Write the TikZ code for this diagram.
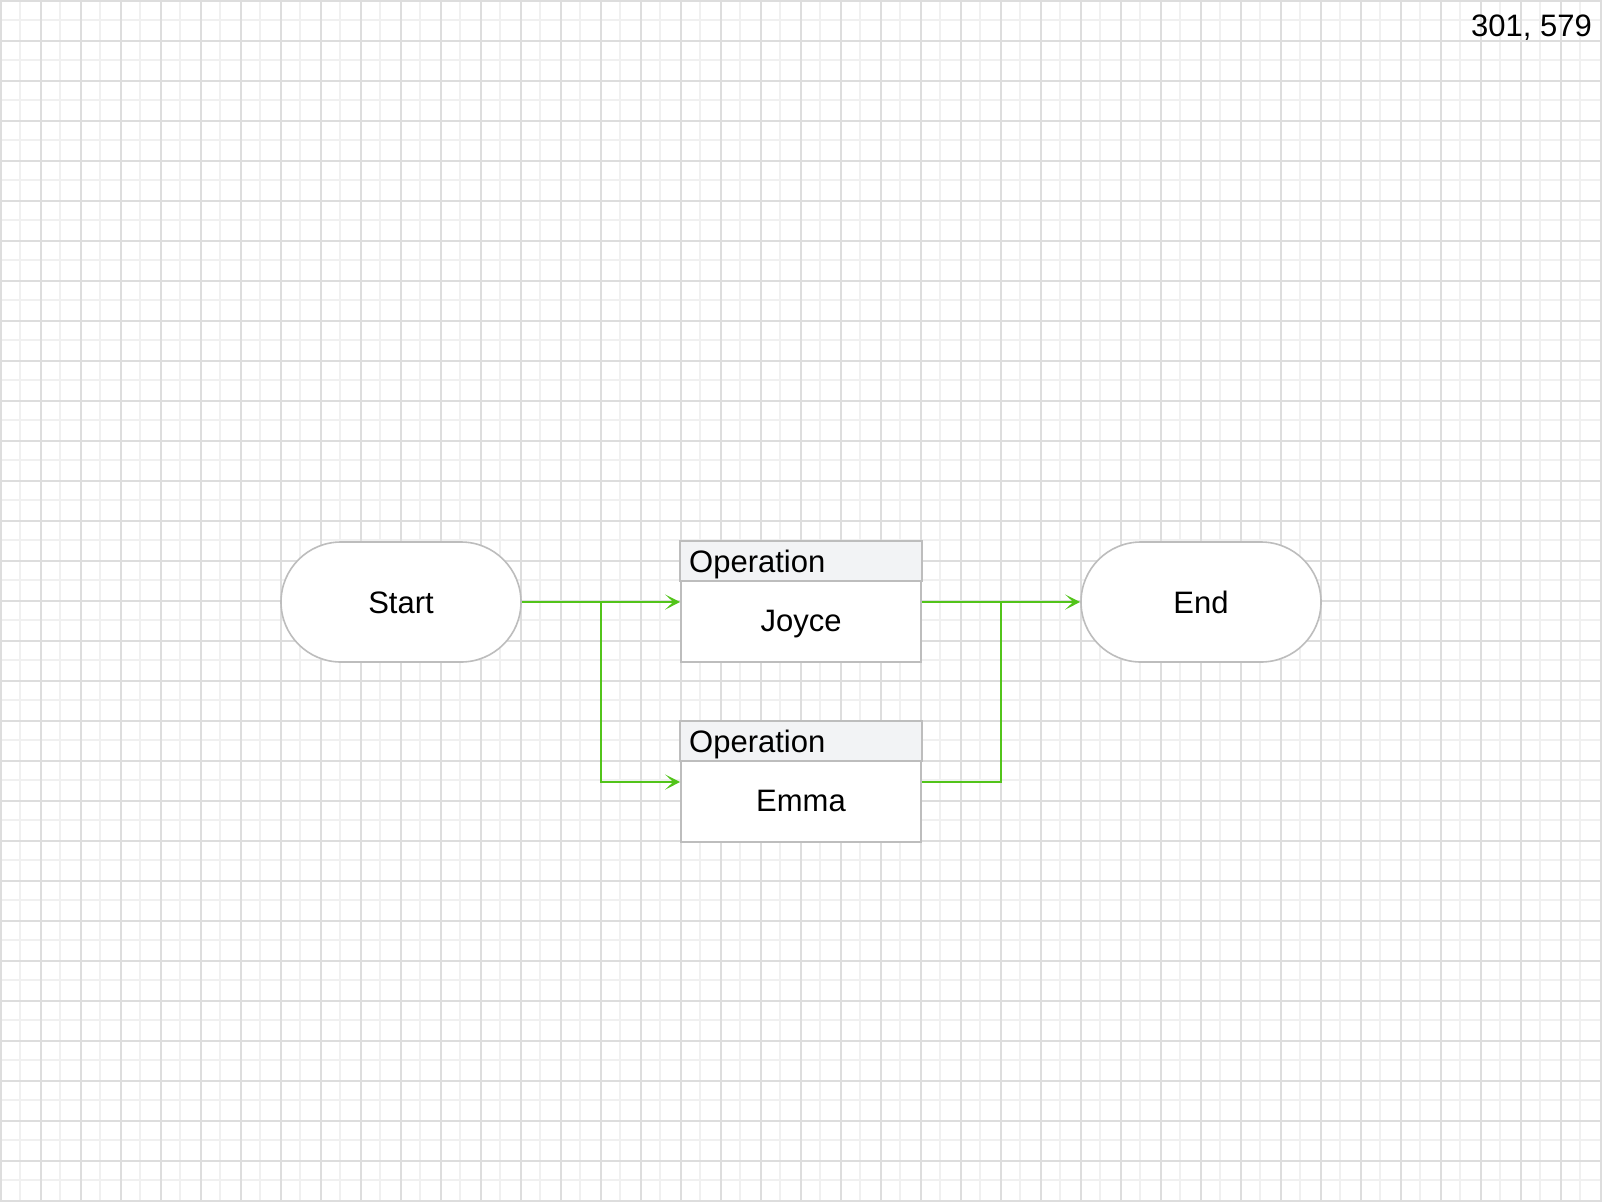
\documentclass[tikz,border=0pt]{standalone}
\usepackage{fontspec}
\setmainfont{Liberation Sans}
\usetikzlibrary{shapes.misc,arrows.meta,calc}
\definecolor{gridmajor}{HTML}{DDDDDD}
\definecolor{gridminor}{HTML}{F0F0F0}
\definecolor{edgegray}{HTML}{BDBDBD}
\definecolor{flow}{HTML}{52C41A}
\definecolor{headfill}{HTML}{F2F3F5}
\begin{document}
\begin{tikzpicture}[x=1pt,y=-1pt,
  terminal/.style={rounded rectangle, draw=edgegray, line width=1.6pt, fill=white,
    minimum width=240pt, minimum height=120pt, inner sep=0pt,
    font=\fontsize{31}{37}\selectfont, text height=22pt, text depth=0pt},
  opbox/.style={rectangle, draw=edgegray, line width=1.6pt, fill=white,
    minimum width=240pt, minimum height=120pt, inner sep=0pt},
  txt/.style={inner sep=0pt, font=\fontsize{31}{37}\selectfont},
  flowline/.style={draw=flow, line width=2pt},
  arr/.style={-{Stealth[length=15pt,width=15pt,inset=8pt]}}
]
\useasboundingbox (0,0) rectangle (1602,1202);
\fill[white] (0,0) rectangle (1602,1202);
% grid
\foreach \x in {20,60,...,1580} \draw[gridminor, line width=1.5pt] (\x,0) -- (\x,1202);
\foreach \y in {20,60,...,1180} \draw[gridminor, line width=1.5pt] (0,\y) -- (1602,\y);
\foreach \x in {0,40,...,1600} \draw[gridmajor, line width=1.6pt] (\x+0.8,0) -- (\x+0.8,1202);
\foreach \y in {0,40,...,1200} \draw[gridmajor, line width=1.6pt] (0,\y+0.8) -- (1602,\y+0.8);

% nodes
\node[terminal] (start) at (401,602) {Start};
\node[terminal] (end) at (1201,602) {End};
\node[opbox] (joyce) at (801,602) {};
\node[opbox] (emma) at (801,782) {};
\draw[edgegray, line width=1.6pt, fill=headfill] (joyce.north west) rectangle ($(joyce.north east)+(0,40)$);
\draw[edgegray, line width=1.6pt, fill=headfill] (emma.north west) rectangle ($(emma.north east)+(0,40)$);
\node[txt, anchor=base west] (op1) at (689,572) {Operation};
\node[txt, anchor=base west] (op2) at (689,752) {Operation};
\node[txt, anchor=base] (joycet) at (801,631) {Joyce};
\node[txt, anchor=base] (emmat) at (801,811) {Emma};
\node[txt, anchor=base east] (coord) at (1592,36) {301, 579};

% connectors
\coordinate (split) at (601,602);
\coordinate (merge) at (1001,602);
\draw[flowline, arr] (start.east) -- (joyce.west);
\draw[flowline, arr] (split) |- (emma.west);
\draw[flowline, arr] (joyce.east) -- (end.west);
\draw[flowline] (emma.east) -| (merge);
\end{tikzpicture}
\end{document}
